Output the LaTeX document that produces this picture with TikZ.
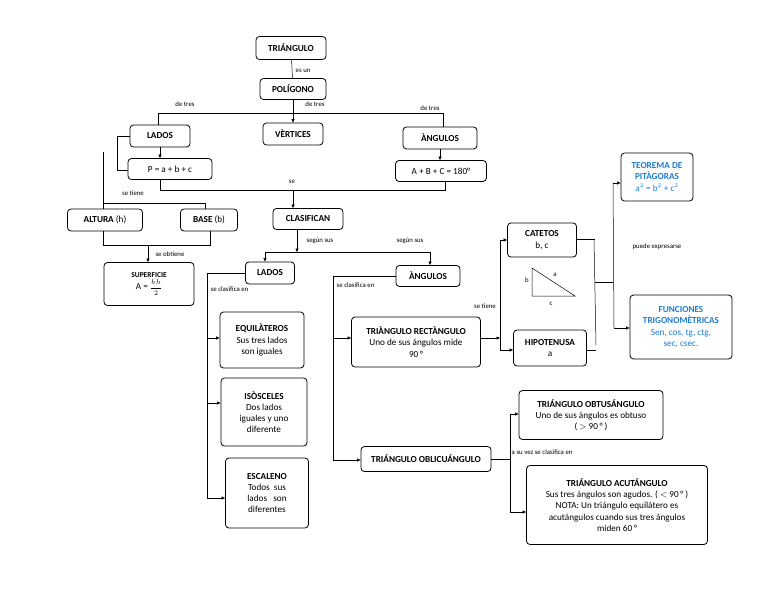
\documentclass[tikz,border=0pt]{standalone}
\usepackage{fontspec}
\setmainfont{Carlito}
\usetikzlibrary{arrows.meta}
\definecolor{blu}{HTML}{1E7CD2}
\begin{document}
\begin{tikzpicture}[x=1pt,y=-1pt,
  box/.style={draw, rounded corners=3.5pt, line width=0.8pt, align=center, inner sep=1pt, font=\fontsize{9.2}{11.2}\selectfont},
  bx/.style args={#1x#2}{box, minimum width=#1pt, minimum height=#2pt},
  lbl/.style={font=\fontsize{6.8}{7.5}\selectfont, inner sep=0.5pt},
  ln/.style={line width=0.5pt},
  ar/.style={ln, -{Triangle[length=3.5pt,width=3pt]}}]
\useasboundingbox (0,0) rectangle (768,594);
\node[bx=70x23] (tri) at (291,48) {\textbf{TRIÁNGULO}};
\node[bx=66x21] (pol) at (293,89) {\textbf{POLÍGONO}};
\node[bx=60x22] (lados) at (160,136) {\textbf{LADOS}};
\node[bx=60x22] (vert) at (293,134) {\textbf{VÈRTICES}};
\node[bx=74x22] (ang) at (440,138) {\textbf{ÀNGULOS}};
\node[bx=84x21] (per) at (170,169) {P = a + b + c};
\node[bx=91x21] (suma) at (441,171) {A + B + C = 180°};
\node[bx=75x22] (alt) at (105,220) {\textbf{ALTURA} (h)};
\node[bx=57x22] (base) at (209,220) {\textbf{BASE} (b)};
\node[bx=90x43] (sup) at (149,284) {\textbf{\fontsize{7.5}{8}\selectfont SUPERFICIE}\\[1pt] A = {\fontsize{7}{7}\selectfont$\displaystyle\frac{b\,h}{2}$}};
\node[bx=70x21] (clas) at (308,219) {\textbf{CLASIFICAN}};
\node[bx=49x22] (lados2) at (270,273) {\textbf{LADOS}};
\node[bx=64x21] (ang2) at (428,276) {\textbf{ÀNGULOS}};
\node[bx=84x56] (equi) at (262,340) {\textbf{EQUILÀTEROS}\\Sus tres lados\\son iguales};
\node[bx=86x68] (iso) at (264,412) {\textbf{ISÒSCELES}\\Dos lados\\iguales y uno\\diferente};
\node[bx=83x70] (esc) at (267,493) {\textbf{ESCALENO}\\Todos\ \ sus\\lados\ \ \ son\\diferentes};
\node[bx=129x50] (rect) at (416,342) {\textbf{TRIÀNGULO RECTÀNGULO}\\Uno de sus ángulos mide\\90\,°};
\node[bx=130x25] (obl) at (426,459) {\textbf{TRIÁNGULO OBLICUÁNGULO}};
\node[bx=69x34] (cat) at (542,240) {\textbf{CATETOS}\\b, c};
\node[bx=73x36] (hip) at (550,348) {\textbf{HIPOTENUSA}\\a};
\node[bx=72x48, text=blu] (teo) at (657,177) {\textbf{TEOREMA DE}\\\textbf{PITÀGORAS}\\a$^{2}$ = b$^{2}$ + c$^{2}$};
\node[bx=102x64, text=blu] (fun) at (681,327) {\textbf{FUNCIONES}\\\textbf{TRIGONOMÈTRICAS}\\Sen, cos, tg, ctg,\\sec, csec.};
\node[bx=144x49] (obt) at (591,415) {\textbf{TRIÁNGULO OBTUSÁNGULO}\\Uno de sus ángulos es obtuso\\( $>$ 90\,° )};
\node[bx=181x79] (acu) at (617,505) {\textbf{TRIÁNGULO ACUTÁNGULO}\\Sus tres ángulos son agudos. ( $<$ 90\,° )\\NOTA: Un triángulo equilátero es\\acutángulos cuando sus tres ángulos\\miden 60\,°};
% triangle figure
\draw[ln] (532,268) coordinate (t1) -- (532,296) coordinate (t2) -- (575,296) coordinate (t3) -- cycle;
\node[lbl] (lb) at (527,280) {b};
\node[lbl] (la) at (555,275) {a};
\node[lbl] (lc) at (551,304) {c};
% top connectors
\draw[ln] (tri) -- (pol);
\node[lbl, anchor=west] (esun) at (295,71) {es un};
\draw[ar] (pol) -- (vert);
\draw[ln] (lados.north -| 158,0) -- (158,113) -- (443,113) -- (ang.north -| 443,0);
\node[lbl] (dt1) at (185,104) {de tres};
\node[lbl] (dt2) at (315,104) {de tres};
\node[lbl] (dt3) at (430,108) {de tres};
\draw[ar] (lados) -- (lados|-per.north);
\draw[ar] (ang) -- (ang|-suma.north);
\draw[ln] (lados.west) -- (117,136) -- (117,170) -- (per.west|-0,170);
\draw[ln] (103,152) -- (alt.north -| 103,0);
\draw[ln] (103,203) -- (205,203) -- (base.north -| 205,0);
\draw[ln] (alt.south -| 103,0) -- (103,245) -- (210,245) -- (base.south -| 210,0);
\draw[ar] (148,245) -- (sup.north -| 148,0);
\node[lbl] (stiene) at (133,193) {se tiene};
\node[lbl] (sobt) at (170,254) {se obtiene};
\draw[ln] (per.south -| 160,0) -- (160,190) -- (445,190) -- (suma.south -| 445,0);
\draw[ar] (293,190) -- (clas.north -| 293,0);
\node[lbl] (se) at (292,182) {se};
\draw[ar] (clas.south -| 297,0) -- (297,252);
\draw[ln] (265,252) -- (430,252);
\draw[ar] (265,252) -- (lados2.north -| 265,0);
\draw[ar] (430,252) -- (ang2.north -| 430,0);
\node[lbl] (ss1) at (320,241) {según sus};
\node[lbl] (ss2) at (410,241) {según sus};
% lados classification
\draw[ln] (lados2.west) -- (207,273) -- (207,498);
\draw[ar] (207,338) -- (equi.west|-0,338);
\draw[ar] (207,403) -- (iso.west|-0,403);
\draw[ar] (207,498) -- (esc.west|-0,498);
\node[lbl, anchor=west] (sc1) at (210,289) {se clasifica en};
% angulos classification
\draw[ln] (ang2.west) -- (333,276) -- (333,460);
\draw[ar] (333,338) -- (rect.west|-0,338);
\draw[ar] (333,460) -- (obl.west|-0,460);
\node[lbl, anchor=west] (sc2) at (336,285) {se clasifica en};
% rectangulo
\draw[ar] (rect.east|-0,338) -- (500,338);
\draw[ln] (500,240) -- (500,350);
\draw[ar] (500,240) -- (cat.west|-0,240);
\draw[ar] (500,350) -- (hip.west|-0,350);
\node[lbl] (st2) at (485,306) {se tiene};
\draw[ln] (cat.east|-0,239) -- (595,239);
\draw[ln] (hip.east|-0,350) -- (596,350);
\draw[ln] (594,239) -- (596,345);
\draw[ln] (595,282) -- (613,282);
\draw[ln] (613,183) -- (614,328);
\draw[ar] (613,183) -- (teo.west|-0,183);
\draw[ar] (614,328) -- (fun.west|-0,328);
\node[lbl] (pe) at (657,247) {puede expresarse};
% oblicuangulo
\draw[ln] (obl.east) -- (510,459);
\draw[ln] (510,414) -- (510,512);
\draw[ar] (510,414) -- (obt.west|-0,414);
\draw[ar] (510,512) -- (acu.west|-0,512);
\node[lbl, anchor=west] (asv) at (511,452) {a su vez se clasifica en};
\end{tikzpicture}
\end{document}
